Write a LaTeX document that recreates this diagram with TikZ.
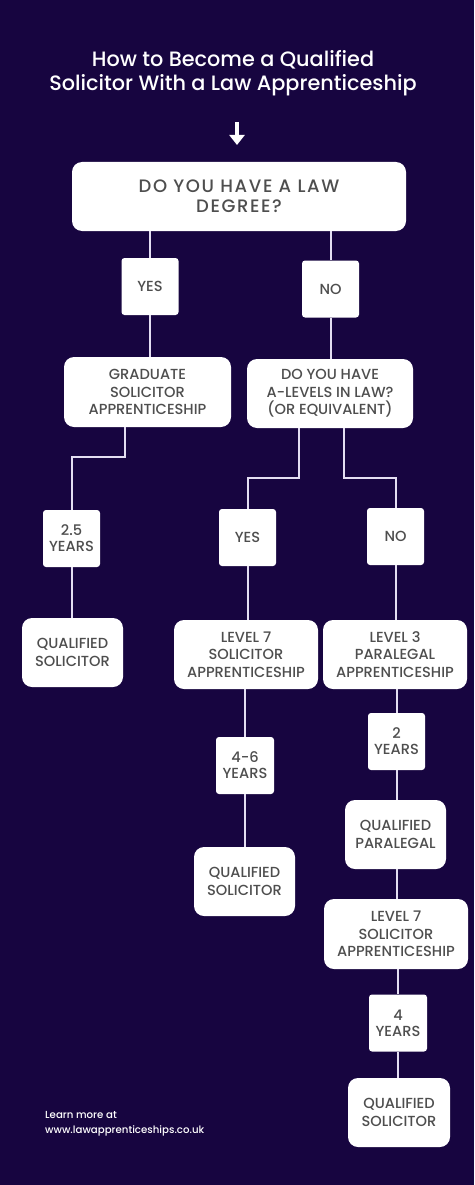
\documentclass[tikz,border=0pt]{standalone}
\usepackage{fontspec}
\setmainfont{Poppins}
\newfontfamily\medfont{Poppins Medium}
\newfontfamily\spacedfont[LetterSpace=9]{Poppins Medium}
\usetikzlibrary{arrows.meta}
\definecolor{navy}{HTML}{170540}
\definecolor{boxtext}{HTML}{4E4E4E}
\definecolor{linecol}{HTML}{E4DEF2}

\tikzset{
  bigbox/.style={fill=white, rounded corners=10pt, text=boxtext, align=center,
    inner sep=0pt, font=\medfont\fontsize{14.6}{17.5}\selectfont},
  smallbox/.style={fill=white, rounded corners=3pt, text=boxtext, align=center,
    inner sep=0pt, minimum width=57pt, minimum height=57pt,
    font=\medfont\fontsize{14.6}{16}\selectfont},
  link/.style={draw=linecol, line width=2pt},
}

\begin{document}
\begin{tikzpicture}[x=1pt,y=-1pt]
\fill[navy] (0,0) rectangle (474,1185);
\useasboundingbox (0,0) rectangle (474,1185);

% title and arrow
\node[text=white, align=center, font=\medfont\fontsize{20.8}{24}\selectfont] (title) at (233,73)
  {How to Become a Qualified\\Solicitor With a Law Apprenticeship};
\coordinate (arrowtop) at (237,122);
\coordinate (arrowtip) at (237,145);
\draw[white, line width=4pt, -{Triangle[width=15pt,length=10pt]}] (arrowtop) -- (arrowtip);

% first question
\node[bigbox, minimum width=334pt, minimum height=69pt,
  font=\spacedfont\fontsize{18}{20}\selectfont] (law) at (239,196.5) {DO YOU HAVE A LAW\\DEGREE?};
\node[smallbox] (yes1) at (150,286.5) {YES};
\node[smallbox] (no1) at (330.5,289) {NO};

% second row
\node[bigbox, minimum width=167pt, minimum height=70pt] (grad) at (147.5,392) {GRADUATE\\SOLICITOR\\APPRENTICESHIP};
\node[bigbox, minimum width=166pt, minimum height=69pt] (alev) at (330,393.5) {DO YOU HAVE\\A-LEVELS IN LAW?\\(OR EQUIVALENT)};

\node[smallbox] (yrs1) at (71.5,538.5) {2.5\\YEARS};
\node[smallbox] (yes2) at (247.5,537.5) {YES};
\node[smallbox] (no2) at (395.5,536.5) {NO};

\node[bigbox, minimum width=101pt, minimum height=69pt] (qs1) at (72.5,652.5) {QUALIFIED\\SOLICITOR};
\node[bigbox, minimum width=144pt, minimum height=69pt] (lvla) at (246,654.5) {LEVEL 7\\SOLICITOR\\APPRENTICESHIP};
\node[bigbox, minimum width=144pt, minimum height=69pt] (lvlc) at (395,654.5) {LEVEL 3\\PARALEGAL\\APPRENTICESHIP};

% middle column
\node[smallbox, minimum width=58pt] (yrs2) at (245,765.5) {4-6\\YEARS};
\node[bigbox, minimum width=101pt, minimum height=69pt] (qs2) at (244.5,881.5) {QUALIFIED\\SOLICITOR};

% right column
\node[smallbox] (yrs3) at (396.5,741.5) {2\\YEARS};
\node[bigbox, minimum width=101pt, minimum height=69pt] (qp) at (395.5,834.5) {QUALIFIED\\PARALEGAL};
\node[bigbox, minimum width=144pt, minimum height=70pt] (lvlb) at (396,934) {LEVEL 7\\SOLICITOR\\APPRENTICESHIP};
\node[smallbox, minimum width=58pt] (yrs4) at (398,1023) {4\\YEARS};
\node[bigbox, minimum width=102pt, minimum height=69pt] (qs3) at (399,1112.5) {QUALIFIED\\SOLICITOR};

% connectors
\draw[link] (yes1.north |- law.south) -- (yes1.north);
\draw[link] (no1.north |- law.south) -- (no1.north);
\draw[link] (yes1.south) -- (yes1.south |- grad.north);
\draw[link] (no1.south) -- (no1.south |- alev.north);
\draw[link] ([xshift=-23pt]grad.south) -- ++(0,30) -| (yrs1.north);
\draw[link] ([xshift=-31pt]alev.south) -- ++(0,50) -| (yes2.north);
\draw[link] ([xshift=14pt]alev.south) -- ++(0,50) -| (no2.north);
\draw[link] (yrs1.south) -- (yrs1.south |- qs1.north);
\draw[link] (yes2.south) -- (yes2.south |- lvla.north);
\draw[link] (no2.south) -- (no2.south |- lvlc.north);
\draw[link] (yrs2.north |- lvla.south) -- (yrs2.north);
\draw[link] (yrs2.south) -- (yrs2.south |- qs2.north);
\draw[link] (yrs3.north |- lvlc.south) -- (yrs3.north);
\draw[link] (yrs3.south) -- (yrs3.south |- qp.north);
\draw[link] (yrs3.south |- qp.south) -- (yrs3.south |- lvlb.north);
\draw[link] (yrs4.north |- lvlb.south) -- (yrs4.north);
\draw[link] (yrs4.south) -- (yrs4.south |- qs3.north);

% footer
\node[text=white, align=left, anchor=west, inner sep=0pt, font=\medfont\fontsize{10.2}{15}\selectfont] (more) at (45,1123.5)
  {Learn more at\\www.lawapprenticeships.co.uk};
\end{tikzpicture}
\end{document}
